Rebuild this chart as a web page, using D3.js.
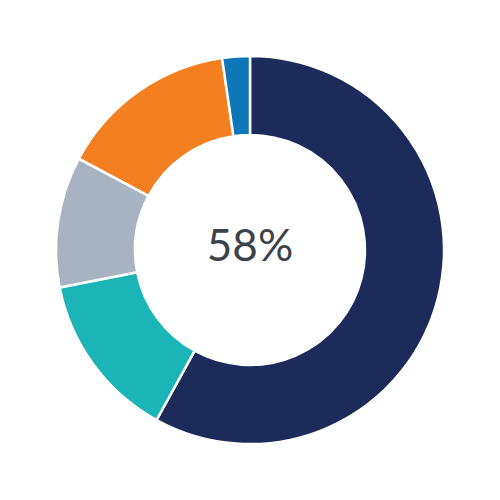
<!DOCTYPE html>
<html>
<head>
<meta charset="utf-8">
<script src="https://cdn.jsdelivr.net/npm/d3@7"></script>
<style>
  body { margin: 0; background: #fff; }
</style>
</head>
<body>
<svg id="donut" width="500" height="500"></svg>
<script>
// slices clockwise from 12 o'clock
const labels = ['A', 'B', 'C', 'D', 'E']
const values = [58, 13.9, 10.9, 14.9, 2.3]
const colors = ['#1c2b59', '#1bb5b7', '#a8b3c1', '#f37f21', '#0f76b8']
const centerLabel = '58%'

let svg = d3.select('#donut')
let g = svg.append('g').attr('transform', 'translate(250,250)')

let data = labels.map((l, i) => ({label: l, value: values[i]}))
let pie = d3.pie().value(d => d.value).sort(null)
let arc = d3.arc().innerRadius(115).outerRadius(194)
let colorScale = d3.scaleOrdinal(colors).domain(labels)

g.selectAll('path').data(pie(data)).join('path')
  .attr('d', arc)
  .attr('fill', d => colorScale(d.data.label))
  .attr('stroke', '#fff')
  .attr('stroke-width', 2.5)

g.append('text').text(centerLabel)
  .attr('text-anchor', 'middle')
  .attr('dy', '0.35em')
  .attr('y', -4)
  .style('font-family', 'Lato, "Open Sans", sans-serif')
  .style('font-size', '44px')
  .style('fill', '#3b424a')
</script>
</body>
</html>
